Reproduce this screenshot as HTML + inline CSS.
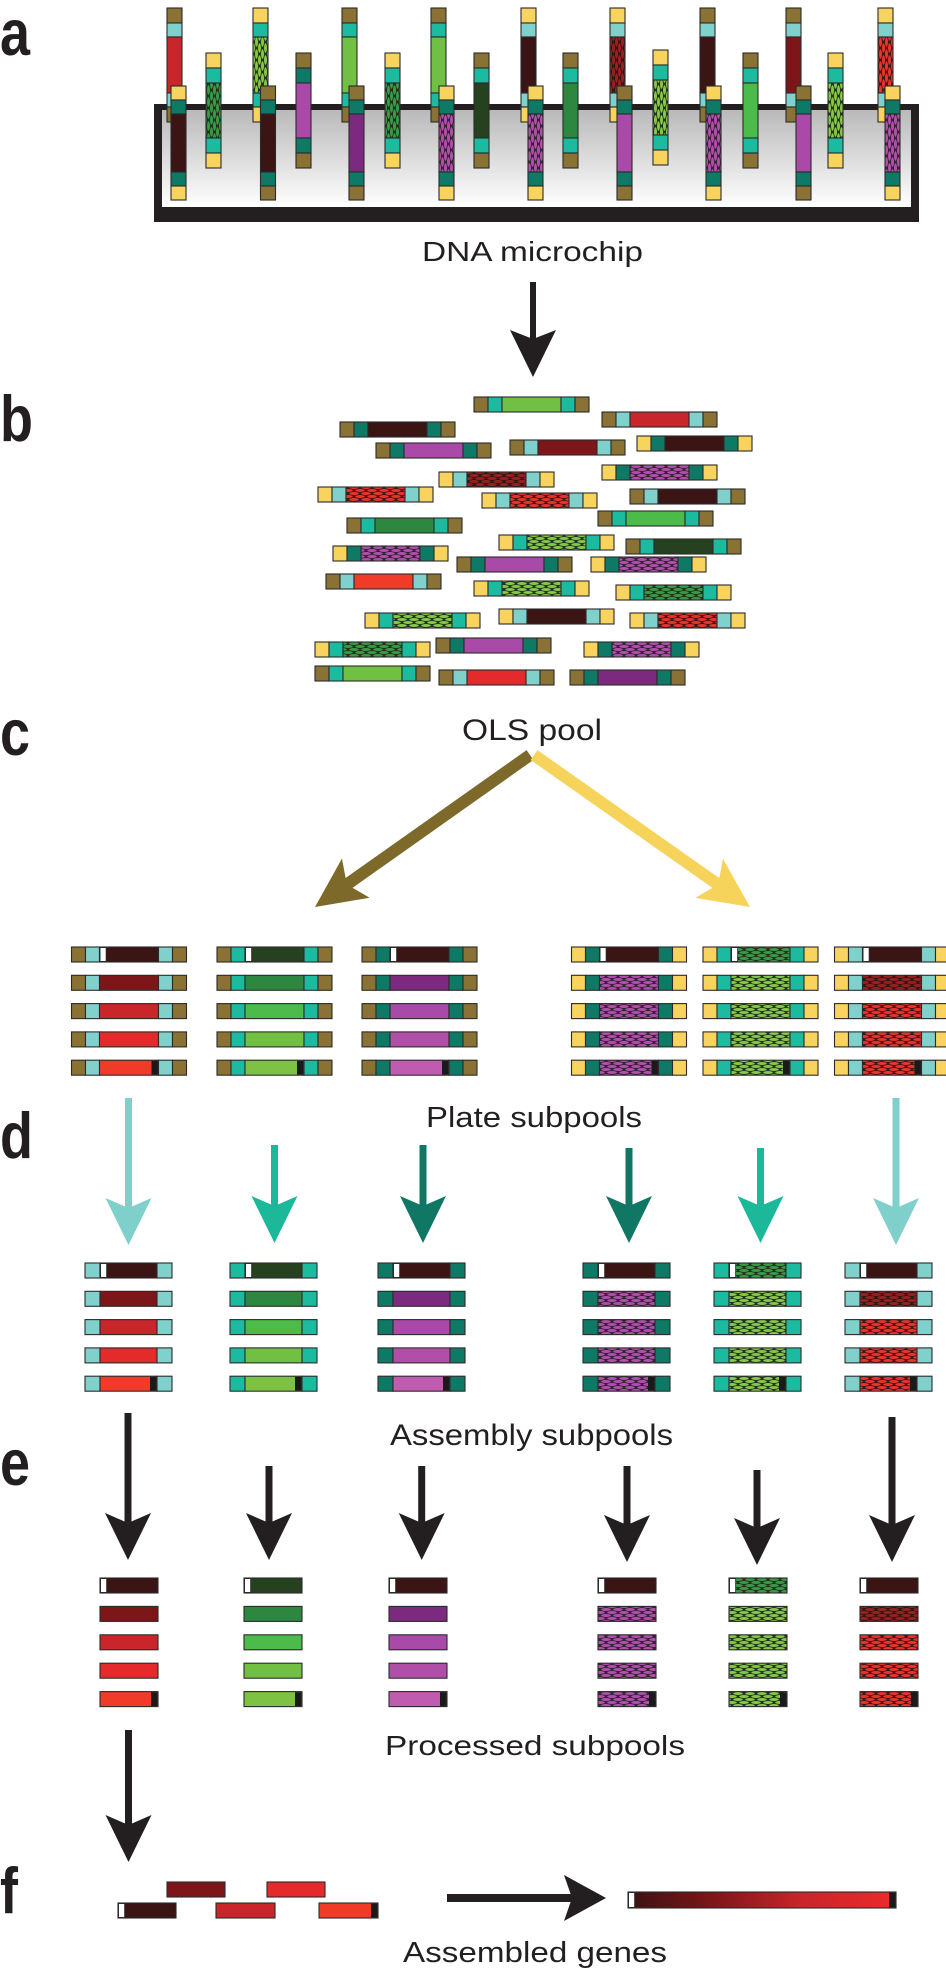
<!DOCTYPE html>
<html><head><meta charset="utf-8"><style>
html,body{margin:0;padding:0;background:#fff}
svg{display:block}
</style></head><body>
<svg id="s" xmlns="http://www.w3.org/2000/svg" width="946" height="1972" viewBox="0 0 946 1972">
<defs>
<linearGradient id="chipg" x1="0" y1="0" x2="0" y2="1"><stop offset="0" stop-color="#b9b9b9"/><stop offset="1" stop-color="#ffffff"/></linearGradient>
<linearGradient id="gene" x1="0" y1="0" x2="1" y2="0"><stop offset="0" stop-color="#3a1212"/><stop offset="0.3" stop-color="#7a1518"/><stop offset="0.65" stop-color="#c8262b"/><stop offset="1" stop-color="#ec2a2a"/></linearGradient>
</defs>
<g font-family="Liberation Sans, Arial, sans-serif" fill="#231f20">
<text x="0" y="55" font-size="65" font-weight="bold" transform="scale(0.83,1)">a</text>
<text x="0" y="441" font-size="65" font-weight="bold" transform="scale(0.83,1)">b</text>
<text x="0" y="755" font-size="65" font-weight="bold" transform="scale(0.83,1)">c</text>
<text x="0" y="1158" font-size="65" font-weight="bold" transform="scale(0.83,1)">d</text>
<text x="0" y="1485" font-size="65" font-weight="bold" transform="scale(0.83,1)">e</text>
<text x="0" y="1913" font-size="65" font-weight="bold" transform="scale(0.83,1)">f</text>
<text x="422" y="261" font-size="28" textLength="221" lengthAdjust="spacingAndGlyphs">DNA microchip</text>
<text x="462" y="740" font-size="30" textLength="140" lengthAdjust="spacingAndGlyphs">OLS pool</text>
<text x="426" y="1127" font-size="29" textLength="216" lengthAdjust="spacingAndGlyphs">Plate subpools</text>
<text x="390" y="1445" font-size="30" textLength="283" lengthAdjust="spacingAndGlyphs">Assembly subpools</text>
<text x="385" y="1755" font-size="28" textLength="300" lengthAdjust="spacingAndGlyphs">Processed subpools</text>
<text x="403" y="1962" font-size="29" textLength="264" lengthAdjust="spacingAndGlyphs">Assembled genes</text>
</g>
<g id="content"></g>
</svg>
<script>
(function(){
var NS="http://www.w3.org/2000/svg";
var svg=document.getElementById('s');
var defs=svg.querySelector('defs');
var root=document.getElementById('content');
function el(tag,attrs,parent){var e=document.createElementNS(NS,tag);for(var k in attrs)e.setAttribute(k,attrs[k]);(parent||root).appendChild(e);return e;}
function hatch(id,base,c,rot){
  var p=el('pattern',{id:id,patternUnits:'userSpaceOnUse',width:12,height:6,patternTransform:rot?'rotate(90)':''},defs);
  el('rect',{x:0,y:0,width:12,height:6,fill:base},p);
  el('ellipse',{cx:6,cy:1.5,rx:4.8,ry:1.5,fill:c},p);
  el('ellipse',{cx:0,cy:4.5,rx:4.8,ry:1.5,fill:c},p);
  el('ellipse',{cx:12,cy:4.5,rx:4.8,ry:1.5,fill:c},p);
}
var H={purpH:['#3a2236','#b050ac'],greenH:['#24351c','#86c84a'],dgreenH:['#22321c','#3a9a48'],redH:['#4a1414','#e8342c'],dredH:['#351414','#9a2020']};
for(var k in H){hatch(k,H[k][0],H[k][1],false);hatch(k+'V',H[k][0],H[k][1],true);}
var O='#8a7234',Y='#f8d35e',LC='#80d0cc',T='#1cbba0',DT='#0e7a66';
var DB='#3b1414',DR='#7d1618',R='#c8262b',BR='#e42a2a',OR='#ef3b28';
var G1='#26411f',G2='#2e8740',G3='#4dbb4a',G4='#72c043',G5='#7dc242';
var P2='#7c2a80',P3='#a94aa8',P4='#b04fa8',P5='#c05cb0';
function fillOf(f,v){ if(H[f]) return 'url(#'+f+(v?'V':'')+')'; return f; }
var SK='#2b2b2b';
function rect(x,y,w,h,f,v){el('rect',{x:x,y:y,width:w,height:h,fill:fillOf(f,v),stroke:SK,'stroke-width':1.1});}
function hstrand(x,y,segs,h,notch,end){
  h=h||15;var cx=x;
  for(var i=0;i<segs.length;i++){
    var s=segs[i];rect(cx,y,s[0],h,s[1],false);
    if(s[2]==='body'){
      if(notch) el('rect',{x:cx+0.6,y:y+0.6,width:6,height:h-1.2,fill:'#fff',stroke:SK,'stroke-width':0.8});
      if(end) el('rect',{x:cx+s[0]-7,y:y+0.6,width:6.4,height:h-1.2,fill:'#1a1a1a'});
    }
    cx+=s[0];
  }
}
function vstrand(x,y,segs,w){
  w=w||15;var cy=y;
  for(var i=0;i<segs.length;i++){var s=segs[i];rect(x,cy,w,s[0],s[1],true);cy+=s[0];}
}
function arrow(x1,y1,x2,y2,sw,L,W,N,color){
  var dx=x2-x1,dy=y2-y1,len=Math.sqrt(dx*dx+dy*dy),ang=Math.atan2(dy,dx)*180/Math.PI;
  var g=el('g',{transform:'translate('+x1+','+y1+') rotate('+ang+')'});
  el('rect',{x:0,y:-sw/2,width:len-L+N+1,height:sw,fill:color},g);
  el('polygon',{points:len+',0 '+(len-L)+','+(-W)+' '+(len-L+N)+',0 '+(len-L)+','+W,fill:color},g);
}
var A=[[167,O,LC,R],[253,Y,T,'greenH'],[342,O,T,G4],[431,O,T,G4],[521,Y,LC,DB],[610,Y,LC,'dredH'],[700,O,LC,DB],[786,O,LC,DR],[878,Y,LC,'redH']];
var B=[[206,Y,T,'dgreenH',53],[296,O,DT,P3,53],[385,Y,T,'dgreenH',53],[474,O,T,G1,53],[563,O,T,G2,53],[653,Y,T,'greenH',50],[743,O,T,G3,53],[828,Y,T,'greenH',53]];
var C=[[171,Y,DB],[260.5,O,DB],[349,O,P2],[439,Y,'purpH'],[528,Y,'purpH'],[617,O,P3],[706,Y,'purpH'],[796,O,P3],[885,Y,'purpH']];
el('rect',{x:154,y:104,width:765,height:118,fill:'#231f20'});
el('rect',{x:162,y:110,width:749,height:97,fill:'url(#chipg)'});
A.forEach(function(a){vstrand(a[0],8,[[15,a[1]],[14,a[2]],[56,a[3]],[14,a[2]],[15,a[1]]]);});
B.forEach(function(b){vstrand(b[0],b[4],[[15,b[1]],[15,b[2]],[55,b[3]],[15,b[2]],[15,b[1]]]);});
C.forEach(function(c){vstrand(c[0],86,[[14,c[1]],[14,DT],[58,c[2]],[14,DT],[14,c[1]]]);});
arrow(533,282,533,377,6,47,23,9,'#231f20');
var BS=[[474,397,O,T,G4],[602,412,O,LC,R],[340,422,O,DT,DB],[637,436,Y,DT,DB],[376,443,O,DT,P3],[510,440,O,LC,DR],
[602,465,Y,DT,'purpH'],[439,472,Y,LC,'dredH'],[318,487,Y,LC,'redH'],[482,493,Y,LC,'redH'],[630,489,O,LC,DB],[598,511,O,T,G3],
[347,518,O,T,G2],[499,535,Y,T,'greenH'],[626,539,O,T,G1],[333,546,Y,DT,'purpH'],[457,557,O,DT,P3],[591,557,Y,DT,'purpH'],
[326,574,O,LC,OR],[474,581,Y,T,'greenH'],[616,585,Y,T,'dgreenH'],[365,613,Y,T,'greenH'],[499,609,Y,LC,DB],[630,613,Y,LC,'redH'],
[315,642,Y,T,'dgreenH'],[436,638,O,DT,P3],[584,642,Y,DT,'purpH'],[315,666,O,T,G4],[439,670,O,LC,BR],[570,670,O,DT,P2]];
BS.forEach(function(s){hstrand(s[0],s[1],[[14,s[2]],[14,s[3]],[59,s[4],'body'],[14,s[3]],[14,s[2]]],15);});
arrow(530,755,315,907,12,50,24,11,'#7d6a2b');
arrow(534,755,750,907,12,50,24,11,'#f6d35a');
var groups=[
 {cx:71.5, dx:85,  ex:100, outer:O,inner:LC,bodies:[DB,DR,R,BR,OR]},
 {cx:217,  dx:230, ex:244, outer:O,inner:T, bodies:[G1,G2,G3,G4,G5]},
 {cx:362,  dx:378, ex:389, outer:O,inner:DT,bodies:[DB,P2,P3,P4,P5]},
 {cx:571.5,dx:583, ex:598, outer:Y,inner:DT,bodies:[DB,'purpH','purpH','purpH','purpH']},
 {cx:703,  dx:714, ex:729, outer:Y,inner:T, bodies:['dgreenH','greenH','greenH','greenH','greenH']},
 {cx:834.5,dx:845, ex:860, outer:Y,inner:LC,bodies:[DB,'dredH','redH','redH','redH']}
];
groups.forEach(function(g){
  for(var r=0;r<5;r++){
    var b=g.bodies[r],n=(r===0),e=(r===4);
    hstrand(g.cx,947+r*28.3,[[14,g.outer],[14,g.inner],[59,b,'body'],[14,g.inner],[14,g.outer]],15,n,e);
    hstrand(g.dx,1263+r*28.3,[[15,g.inner],[57,b,'body'],[15,g.inner]],15,n,e);
    hstrand(g.ex,1578+r*28.4,[[58,b,'body']],15,n,e);
  }
});
arrow(128.5,1098,128.5,1245,7,47,23,10,'#7fd0cb');
arrow(274.5,1145,274.5,1243,7,47,23,10,'#1cb89a');
arrow(423,1145,423,1243,7,47,23,10,'#0f7763');
arrow(629,1148,629,1243,7,47,23,10,'#0f7763');
arrow(760.5,1148,760.5,1243,7,47,23,10,'#1cb89a');
arrow(896,1098,896,1245,7,47,23,10,'#7fd0cb');
var K='#231f20';
arrow(128,1413,128,1560,7,47,23,10,K);
arrow(269,1466,269,1560,7,47,23,10,K);
arrow(421.7,1466,421.7,1560,7,47,23,10,K);
arrow(627,1466,627,1562,7,47,23,10,K);
arrow(757,1470,757,1565,7,47,23,10,K);
arrow(892,1417,892,1562,7,47,23,10,K);
arrow(128.5,1730,128.5,1862,7,47,23,10,K);
hstrand(167,1882,[[58,DR,'body']],15);
hstrand(267,1882,[[58,BR,'body']],15);
hstrand(118,1903,[[58,DB,'body']],15,true,false);
hstrand(216,1903,[[59,R,'body']],15);
hstrand(319,1903,[[59,OR,'body']],15,false,true);
arrow(447,1898,606,1898,8,42,23,8,K);
el('rect',{x:628,y:1892,width:268,height:16,fill:'url(#gene)',stroke:SK,'stroke-width':1.1});
el('rect',{x:628.6,y:1892.6,width:6,height:14.8,fill:'#fff',stroke:SK,'stroke-width':0.8});
el('rect',{x:889,y:1892.6,width:6.4,height:14.8,fill:'#1a1a1a'});
})();
</script>
</body></html>
